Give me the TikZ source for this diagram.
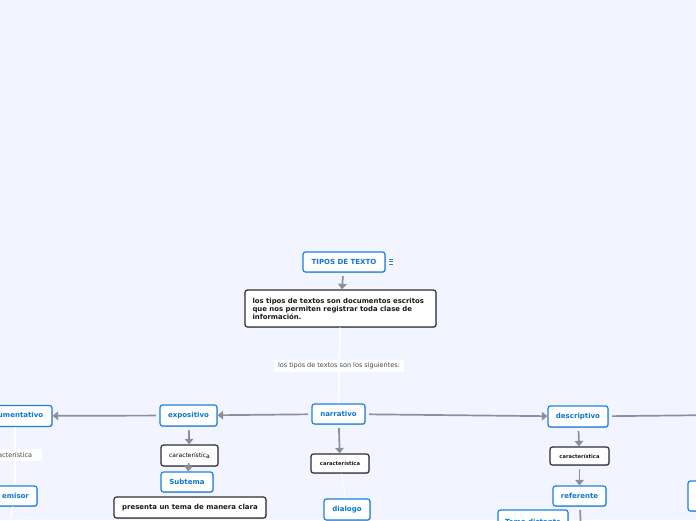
\documentclass[tikz,border=0pt]{standalone}
\usepackage{fontspec}
\setmainfont{DejaVu Sans}
\usetikzlibrary{arrows.meta,shadows}
\definecolor{pagebg}{HTML}{F2F5FF}
\definecolor{topicblue}{HTML}{1B7FE3}
\definecolor{topictext}{HTML}{0B76DA}
\definecolor{darkedge}{HTML}{2E2E33}
\definecolor{linkgrey}{HTML}{8B8F99}
\tikzset{
  boxbase/.style={rectangle,rounded corners=2.5pt,fill=white,inner sep=0pt,line width=1.2pt,
    drop shadow={shadow xshift=0.6pt,shadow yshift=-0.8pt,opacity=0.25,fill=black}},
  topic/.style={boxbase,draw=topicblue,text=topictext,font=\fontsize{7}{8}\selectfont\bfseries},
  note/.style={boxbase,draw=darkedge,text=black!90,font=\fontsize{6.95}{8}\selectfont\bfseries},
  smallnote/.style={note,font=\fontsize{5.2}{6}\selectfont\bfseries},
  lbl/.style={fill=white,text=black!72,inner sep=0pt,font=\fontsize{6.5}{7}\selectfont},
  arrowlink/.style={draw=linkgrey,line width=1.7pt,shorten <=3.5pt,-{Triangle[length=5.5pt,width=8.5pt]}},
  plainlink/.style={draw=linkgrey,line width=1.7pt,shorten <=3.5pt},
  whitelink/.style={draw=white,line width=1.6pt}
}
\newcommand{\bx}[7]{\node[#1,minimum width=#4pt,minimum height=#5pt,#7] (#2) at (#3) {#6};}
\begin{document}
\begin{tikzpicture}[x=1pt,y=-1pt]
\useasboundingbox (0,0) rectangle (696,520);
\fill[pagebg] (0,0) rectangle (696,520);
\clip (0,0) rectangle (696,520);
\coordinate (emisorEnd) at (9,525);
\coordinate (offR) at (720,415);
\coordinate (refEnd) at (581,530);
% nodes
\bx{topic}{tipos}{344,262}{82}{20}{TIPOS DE TEXTO}{}
\bx{note}{defn}{340.5,308.5}{191}{37}{\parbox{176pt}{\raggedright\baselineskip=8pt\fontsize{6.9}{8}\selectfont los tipos de textos son documentos escritos que nos permiten registrar toda clase de información.}}{}
\bx{topic}{narr}{338.5,414}{53}{20}{narrativo}{}
\bx{topic}{expo}{188.5,415.5}{57}{21}{expositivo}{}
\bx{topic}{argu}{14,415.9}{76}{21}{argumentativo}{}
\bx{topic}{desc}{578,416.5}{60}{21}{descriptivo}{}
\bx{smallnote}{carN}{340,463.5}{58}{19}{característica}{}
\bx{note}{carE}{189.5,455.5}{57}{21}{\fontsize{6}{7}\selectfont\mdseries\color{black} característic\raisebox{-1pt}{a}}{}
\bx{smallnote}{carD}{579.5,456}{59}{18}{característica}{}
\bx{topic}{subt}{187,482}{52}{20}{Subtema}{}
\bx{note}{pres}{190,507.5}{152}{21}{presenta un tema de manera clara}{}
\bx{topic}{dial}{347,509.5}{46}{21}{dialogo}{}
\bx{topic}{refe}{579.5,496}{53}{20}{referente}{}
\bx{topic}{tema}{533,521.5}{70}{23}{Tema distante}{}
\bx{topic}{emis}{7,496}{60}{20}{\hspace*{17pt}emisor}{}
\bx{topic}{rbox}{720,496}{64}{30}{}{}
\node[lbl,minimum width=130pt,minimum height=12pt] (lab) at (339,366) {los tipos de textos son los siguientes:};
\node[lbl,minimum width=64pt,minimum height=12pt] (labA) at (10,455) {característica};
% faint white connectors
\draw[whitelink] (defn) -- (lab);
\draw[whitelink] (lab) -- (narr);
\draw[whitelink] (argu.south -| 15,0) -- (15,449);
\draw[whitelink] (15,461) -- (emis.north -| 15,0);
\draw[whitelink] (emis.south -| 13,0) -- (emisorEnd);
\draw[draw=white,line width=.8pt] (carN) -- (dial);
% arrows
\draw[arrowlink] (tipos) -- (defn);
\draw[arrowlink] (narr) -- (expo);
\draw[arrowlink] (narr) -- (desc);
\draw[arrowlink] (narr) -- (carN);
\draw[arrowlink] (expo) -- (argu);
\draw[arrowlink] (expo) -- (carE);
\draw[arrowlink] (carE) -- (subt);
\draw[arrowlink] (desc) -- (carD);
\draw[arrowlink] (carD) -- (refe);
\draw[plainlink] (desc) -- (offR);
\draw[plainlink] (refe) -- (refEnd);
% menu icon
\node[fill=white,minimum width=7pt,minimum height=9pt,inner sep=0pt] (menuicon) at (391,261.5) {};
\foreach \yy in {-2.4,0,2.4}
  \draw[topicblue,line width=.7pt] ([xshift=-2.3pt,yshift=\yy pt]menuicon.center) -- ([xshift=2.3pt,yshift=\yy pt]menuicon.center);
\end{tikzpicture}
\end{document}
